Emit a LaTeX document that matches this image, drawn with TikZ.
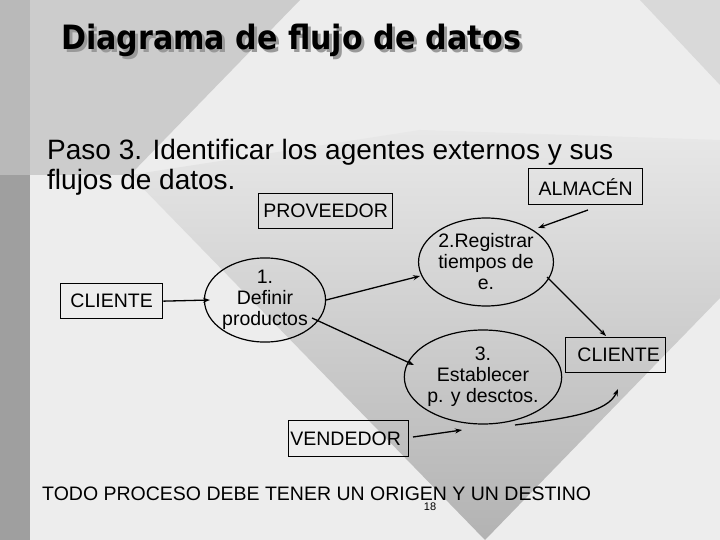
\documentclass[tikz,border=0pt]{standalone}
\usepackage{fontspec}
\setmainfont{Liberation Sans}
\newfontfamily\titlefont{DejaVu Sans Condensed}
\usetikzlibrary{shapes.geometric,arrows.meta,shadows}
\begin{document}
\begin{tikzpicture}[x=1pt,y=-1pt,
  ent/.style={draw,line width=1.3pt,font=\fontsize{19.5}{20}\selectfont,inner sep=0pt,anchor=north west},
  proc/.style={draw,line width=1.2pt,ellipse,inner sep=0pt,align=center,font=\fontsize{19.5}{21}\selectfont},
  flow/.style={line width=1.3pt,-{Stealth[length=7pt,width=5pt]}}]
\useasboundingbox (0,0) rectangle (720,540);
\fill[gray!14] (0,0) rectangle (720,540);
\fill[gray!40] (30,0) -- (300,0) -- (130,175) -- (30,175) -- cycle;
\fill[gray!30] (640,0) -- (720,0) -- (720,85) -- cycle;
\shade[top color=gray!18,bottom color=gray!60] (130,175) -- (420,130) -- (720,140) -- (720,298) -- (485,540) -- cycle;
\fill[gray!55] (0,0) rectangle (30,175);
\fill[gray!75] (0,175) rectangle (30,540);
% title
\node[font=\titlefont\bfseries\fontsize{33.5}{36}\selectfont,text=gray!80] (tsh) at (294,43) {Diagrama de flujo de datos};
\node[font=\titlefont\bfseries\fontsize{33.5}{36}\selectfont] (title) at (291,40) {Diagrama de flujo de datos};
\node[font=\fontsize{28}{31}\selectfont,anchor=base west,align=left,inner sep=0pt] (paso) at (47,160) {Paso 3. Identificar los agentes externos y sus};
\node[font=\fontsize{28}{31}\selectfont,anchor=base west,inner sep=0pt] (paso2) at (47,190) {flujos de datos.};
% entities
\node[ent,minimum width=114pt,minimum height=36pt] (alm) at (528,168) {ALMACÉN};
\node[ent,minimum width=134pt,minimum height=35pt] (prov) at (258,193) {PROVEEDOR};
\node[ent,minimum width=102pt,minimum height=35pt] (cli1) at (60,283) {CLIENTE};
\node[ent,minimum width=100pt,minimum height=35pt] (cli2) at (565,337) {\hspace*{6pt}CLIENTE};
\node[ent,minimum width=120pt,minimum height=36pt] (vend) at (288,420) {VENDEDOR\hspace*{6pt}};
% processes
\node[proc,minimum width=96pt,minimum height=82pt] (p1) at (265,300) {1.\\Definir\\productos};
\node[proc,minimum width=118pt,minimum height=88pt] (p2) at (486,262) {2.Registrar\\tiempos de\\e.};
\node[proc,minimum width=124pt,minimum height=94pt] (p3) at (483,377) {3.\\Establecer\\p. y desctos.};
% bottom
\node[font=\fontsize{19.5}{21}\selectfont,anchor=base west,inner sep=0pt] (todo) at (42,500) {TODO PROCESO DEBE TENER UN ORIGEN Y UN DESTINO};
\node[font=\fontsize{11}{12}\selectfont] (num) at (430,507) {18};
% flows
\coordinate (a1) at (210,300);
\draw[flow] (cli1.east) -- (a1);
\coordinate (a2) at (420,276);
\draw[flow] (p1.east) -- (a2);
\coordinate (s3) at (312,318);
\coordinate (a3) at (414,365);
\draw[flow] (s3) -- (a3);
\coordinate (s4) at (588,210);
\coordinate (a4) at (538,228);
\draw[flow] (s4) -- (a4);
\coordinate (s5) at (547,277);
\coordinate (a5) at (606,336);
\draw[flow] (s5) -- (a5);
\coordinate (s6) at (413,437);
\coordinate (a6) at (462,430);
\draw[flow] (s6) -- (a6);
\coordinate (s7) at (515,425);
\coordinate (a7) at (618,389);
\draw[flow] (s7) .. controls (570,418) and (608,412) .. (a7);
\end{tikzpicture}
\end{document}
